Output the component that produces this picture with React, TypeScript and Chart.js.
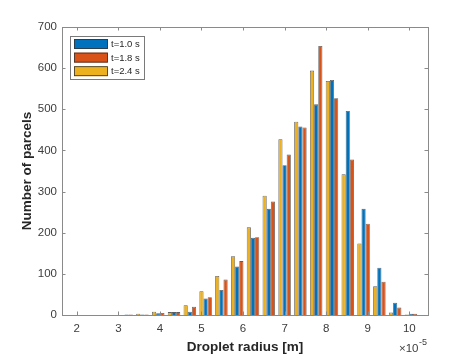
import React, { useEffect, useRef } from "react";
import { Chart, registerables } from "chart.js";

Chart.register(...registerables);

// Bin centres (×10^-5 m)
const binCenters = [2.06, 2.44, 2.82, 3.2, 3.58, 3.96, 4.34, 4.72, 5.1, 5.48, 5.86, 6.24, 6.62, 7.0, 7.38, 7.76, 8.14, 8.52, 8.9, 9.28, 9.66, 10.04];
const countsT10 = [0, 0, 0, 1, 1, 4, 7, 8, 40, 61, 118, 188, 258, 364, 458, 512, 571, 496, 258, 115, 30, 3];
const countsT18 = [0, 0, 0, 1, 1, 5, 7, 20, 43, 86, 131, 189, 276, 390, 456, 654, 527, 378, 222, 81, 18, 3];
const countsT24 = [0, 0, 0, 0, 3, 8, 7, 24, 58, 95, 143, 213, 290, 427, 470, 594, 569, 342, 174, 70, 6, 1];
const xTicks = [2, 3, 4, 5, 6, 7, 8, 9, 10];
const yTicks = [0, 100, 200, 300, 400, 500, 600, 700];
const seriesLabels = ["t=1.0 s", "t=1.8 s", "t=2.4 s"];
const seriesColors = ["#0072BD", "#D95319", "#EDB120"];

const FONT = "'Liberation Sans', Arial, Helvetica, sans-serif";

const matlabPlugin = {
  id: "matlabAxes",
  afterDatasetsDraw(chart: any) {
    const { ctx, chartArea } = chart;
    const { left, right, top, bottom } = chartArea;
    const xs = chart.scales.x;
    const ys = chart.scales.y;
    ctx.save();
    // box
    ctx.strokeStyle = "#8a8a8a";
    ctx.lineWidth = 1;
    ctx.strokeRect(Math.round(left) + 0.5, Math.round(top) + 0.5, Math.round(right - left), Math.round(bottom - top));
    // inward ticks
    const tl = 3.5;
    ctx.beginPath();
    xTicks.forEach((v) => {
      const px = Math.round(xs.getPixelForValue(v)) + 0.5;
      ctx.moveTo(px, bottom);
      ctx.lineTo(px, bottom - tl);
      ctx.moveTo(px, top);
      ctx.lineTo(px, top + tl);
    });
    yTicks.forEach((v) => {
      const py = Math.round(ys.getPixelForValue(v)) + 0.5;
      ctx.moveTo(left, py);
      ctx.lineTo(left + tl, py);
      ctx.moveTo(right, py);
      ctx.lineTo(right - tl, py);
    });
    ctx.stroke();

    // exponent label
    ctx.fillStyle = "#3c3c3c";
    ctx.textBaseline = "alphabetic";
    ctx.textAlign = "left";
    ctx.font = `11.5px ${FONT}`;
    ctx.fillText("\u00d710", 399, 352);
    ctx.font = `9px ${FONT}`;
    ctx.fillText("-5", 419, 345);

    // legend
    const lx = 70, ly = 36, lw = 74, lh = 43;
    ctx.fillStyle = "#ffffff";
    ctx.fillRect(lx, ly, lw, lh);
    ctx.strokeStyle = "#7a7a7a";
    ctx.strokeRect(lx + 0.5, ly + 0.5, lw, lh);
    const order = [1, 2, 0];
    order.forEach((di, i) => {
      const ds = chart.data.datasets[di];
      const sy = 39 + i * 13.6;
      ctx.fillStyle = ds.backgroundColor;
      ctx.fillRect(74, sy, 34, 10);
      ctx.strokeStyle = "#333333";
      ctx.lineWidth = 0.8;
      ctx.strokeRect(74.5, sy + 0.5, 33, 9);
      ctx.fillStyle = "#262626";
      ctx.font = `9.5px ${FONT}`;
      ctx.textBaseline = "middle";
      ctx.fillText(ds.label, 111, sy + 5.5);
    });
    ctx.restore();
  },
};

export default function App() {
  const ref = useRef<HTMLCanvasElement | null>(null);
  useEffect(() => {
    document.body.style.margin = "0";
    const mk = (vals: number[]) => binCenters.map((x, i) => ({ x, y: vals[i] }));
    const chart = new Chart(ref.current as HTMLCanvasElement, {
      type: "bar",
      data: {
        datasets: [
          { label: seriesLabels[2], data: mk(countsT24), backgroundColor: seriesColors[2] },
          { label: seriesLabels[0], data: mk(countsT10), backgroundColor: seriesColors[0] },
          { label: seriesLabels[1], data: mk(countsT18), backgroundColor: seriesColors[1] },
        ].map((d) => ({
          ...d,
          borderColor: "rgba(40,40,40,0.75)",
          borderWidth: 0.8,
          categoryPercentage: 0.79,
          barPercentage: 1.0,
        })) as any,
      },
      options: {
        responsive: false,
        animation: false,
        devicePixelRatio: 1,
        layout: { padding: { left: 0, top: 27, right: 46, bottom: 0 } },
        plugins: { legend: { display: false }, tooltip: { enabled: false } },
        scales: {
          x: {
            type: "linear",
            min: 1.645,
            max: 10.45,
            offset: false,
            grid: { display: false, drawTicks: false },
            border: { display: false },
            afterBuildTicks: (s: any) => {
              s.ticks = xTicks.map((v) => ({ value: v }));
            },
            afterFit: (s: any) => {
              s.height = 40;
            },
            ticks: {
              autoSkip: false,
              maxRotation: 0,
              padding: 7,
              color: "#3c3c3c",
              font: { family: FONT, size: 11.5 },
              callback: (v: any) => String(v),
            },
            title: {
              display: true,
              text: "Droplet radius [m]",
              color: "#262626",
              font: { family: FONT, size: 13.5, weight: "bold" },
              padding: { top: 2, bottom: 0 },
            },
          },
          y: {
            type: "linear",
            min: 0,
            max: 700,
            grid: { display: false, drawTicks: false },
            border: { display: false },
            afterBuildTicks: (s: any) => {
              s.ticks = yTicks.map((v) => ({ value: v }));
            },
            afterFit: (s: any) => {
              s.width = 62;
            },
            ticks: {
              padding: 5,
              color: "#3c3c3c",
              font: { family: FONT, size: 11.5 },
              callback: (v: any) => String(v),
            },
            title: {
              display: true,
              text: "Number of parcels",
              color: "#262626",
              font: { family: FONT, size: 13.5, weight: "bold" },
              padding: { top: 19, bottom: 0 },
            },
          },
        },
      },
      plugins: [matlabPlugin],
    });
    return () => chart.destroy();
  }, []);
  return (
    <div style={{ width: 474, height: 355, background: "#fff" }}>
      <canvas ref={ref} width={474} height={355} style={{ display: "block" }} />
    </div>
  );
}
